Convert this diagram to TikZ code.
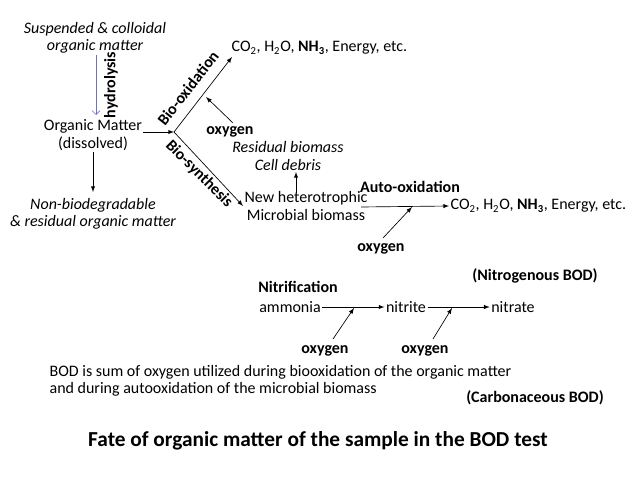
\documentclass[tikz,border=0pt]{standalone}
\usepackage{fontspec}
\setmainfont{Carlito}
\usetikzlibrary{arrows.meta}
\begin{document}
\begin{tikzpicture}[x=0.75pt,y=-0.75pt,
  every node/.style={font=\fontsize{12}{13}\selectfont, inner sep=1pt, align=center},
  bt/.style={font=\fontsize{12}{13}\selectfont\bfseries},
  it/.style={font=\fontsize{12}{13}\selectfont\itshape},
  ar/.style={-latex, black, line width=0.5pt}]
\useasboundingbox (0,0) rectangle (638,478);
\node[it] (susp) at (95,38) {Suspended \& colloidal\\organic matter};
\node (om) at (93,135) {Organic Matter\\(dissolved)};
\node[it] (nonb) at (93,214) {Non-biodegradable\\\& residual organic matter};
\draw[-{Straight Barb[length=3pt]}, blue!40!gray!80, line width=0.4pt] (96,55) -- (96,115);
\node[bt, rotate=90] (hyd) at (111,85) {hydrolysis};
\draw[ar] (93,152) -- (93,192);
\coordinate (br) at (174,132);
\draw[ar] (143,132) -- (br);
\node[anchor=west] (co1) at (230,48) {CO\textsubscript{2}, H\textsubscript{2}O, \textbf{NH\textsubscript{3}}, Energy, etc.};
\draw[ar] (br) -- (232,57);
\node[bt, rotate=52] (bo) at (188,88) {Bio-oxidation};
\node[bt] (ox1) at (230,132) {oxygen};
\coordinate (o1) at (233,123);
\draw[ar] (o1) -- (206,97);
\node[anchor=west] (nh) at (243,206) {New heterotrophic\\Microbial biomass};
\draw[ar] (br) -- (nh.west);
\node[bt, rotate=-45] (bs) at (199,174) {Bio-synthesis};
\node[it] (res) at (288,156) {Residual biomass\\Cell debris};
\coordinate (r1) at (296,193);
\coordinate (r2) at (296,172);
\draw[ar] (r1) -- (r2);
\node[bt] (auto) at (410,187) {Auto-oxidation};
\node[anchor=west] (co2) at (449,206) {CO\textsubscript{2}, H\textsubscript{2}O, \textbf{NH\textsubscript{3}}, Energy, etc.};
\coordinate (a1) at (361,207);
\draw[ar] (a1) -- (co2.west);
\node[bt] (ox2) at (381,249) {oxygen};
\coordinate (o2) at (383,238);
\draw[ar] (o2) -- (412,207);
\node[bt] (nit) at (298,287) {Nitrification};
\node (amm) at (290,307) {ammonia};
\node (nite) at (406,307) {nitrite};
\node (nate) at (513,307) {nitrate};
\draw[ar] (amm.east) -- (nite.west);
\draw[ar] (nite.east) -- (nate.west);
\node[bt] (ox3) at (325,351) {oxygen};
\node[bt] (ox4) at (425,351) {oxygen};
\draw[ar] (333,339) -- (354,308);
\draw[ar] (433,339) -- (452,308);
\node[bt] (nbod) at (535,276) {(Nitrogenous BOD)};
\node[anchor=west, align=left] (bod) at (48,381) {BOD is sum of oxygen utilized during biooxidation of the organic matter\\and during autooxidation of the microbial biomass};
\node[bt] (cbod) at (535,398) {(Carbonaceous BOD)};
\node[font=\fontsize{16}{18}\selectfont\bfseries] (title) at (318,441) {Fate of organic matter of the sample in the BOD test};
\end{tikzpicture}
\end{document}
